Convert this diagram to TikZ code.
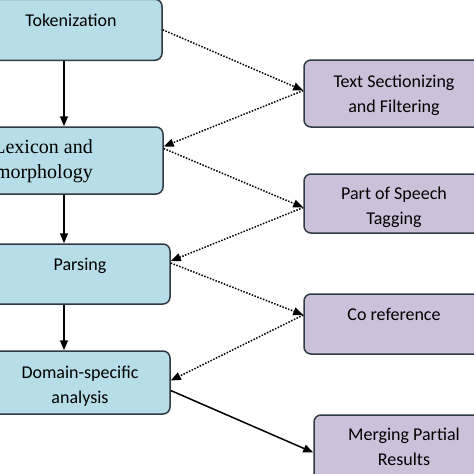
\documentclass[tikz,border=0pt]{standalone}
\usepackage{fontspec}
\setmainfont{Carlito}
\newfontfamily\timesfont{Liberation Serif}
\usetikzlibrary{arrows.meta}

\definecolor{stepblue}{HTML}{B7DDE8}
\definecolor{steplilac}{HTML}{CCC1DA}
\definecolor{stepedge}{HTML}{2E3A44}

\tikzset{
  stepbox/.style={draw=stepedge, line width=1.5pt, rounded corners=7pt,
                  inner sep=0pt},
  leftbox/.style={stepbox, fill=stepblue},
  rightbox/.style={stepbox, fill=steplilac},
  steptext/.style={anchor=base, align=center, inner sep=0pt,
                   font=\fontsize{18}{25}\selectfont},
  flow/.style={line width=1.5pt, -{Triangle[length=10pt,width=8pt]}},
  hint/.style={line width=1.5pt, dash pattern=on 1.5pt off 1.5pt,
               -{Triangle[length=10pt,width=8pt]}}
}

\begin{document}
\begin{tikzpicture}[x=1pt,y=-1pt]
        \useasboundingbox (0,0) rectangle (474,474);
        \clip (0,0) rectangle (474,474);

        % ---- main steps (left column) -------------------
        \node[leftbox, minimum width=182pt, minimum height=61pt]  (tok)   at (71,29.75) {};
        \node[leftbox, minimum width=183pt, minimum height=67pt]  (lex)   at (71.5,160.5) {};
        \node[leftbox, minimum width=190pt, minimum height=60pt]  (pars)  at (75,274) {};
        \node[leftbox, minimum width=190pt, minimum height=63pt]  (dom)   at (75,382.5) {};

        % ---- side steps (right column) ------------------
        \node[rightbox, minimum width=196pt, minimum height=67pt] (sect)  at (402,93.5) {};
        \node[rightbox, minimum width=196pt, minimum height=59pt] (pos)   at (402,203.5) {};
        \node[rightbox, minimum width=196pt, minimum height=60pt] (coref) at (402,324) {};
        \node[rightbox, minimum width=196pt, minimum height=75pt] (merge) at (412,452.5) {};

        % ---- texts inside the boxes (base = last line) --
        \node[steptext] (toktxt)  at (71,26)  {Tokenization};
        \node[steptext, anchor=base east, align=right,
              font=\timesfont\fontsize{20}{25}\selectfont]
                        (lextxt)  at (93,178) {Lexicon and\\morphology};
        \node[steptext] (parstxt) at (80,270) {Parsing};
        \node[steptext] (domtxt)  at (80,403) {Domain-specific\\analysis};
        \node[steptext] (secttxt) at (394,112) {Text Sectionizing\\and Filtering};
        \begin{scope}
          \clip (304,174) rectangle (500,228);   % keep second line cut by the box
          \node[steptext] (postxt) at (394,224) {Part of Speech\\Tagging};
        \end{scope}
        \node[steptext] (coreftxt)  at (394,320) {Co reference};
        \node[steptext] (mergetxt)  at (404,465) {Merging Partial\\Results};

        % ---- solid flow down the left column ------------
        \draw[flow] ([xshift=-7pt]tok.south)   -- ([xshift=-7.5pt]lex.north);
        \draw[flow] ([xshift=-7.5pt]lex.south) -- ([xshift=-11pt]pars.north);
        \draw[flow] ([xshift=-11pt]pars.south) -- ([xshift=-11pt]dom.north);

        % ---- dotted links to the side steps -------------
        \draw[hint] (tok.east)                 -- ([yshift=3pt]sect.west);
        \draw[hint] ([yshift=3pt]sect.west)    -- ([yshift=14pt]lex.east);
        \draw[hint] ([yshift=12pt]lex.east)    -- ([yshift=-4pt]pos.west);
        \draw[hint] ([yshift=-4pt]pos.west)    -- ([yshift=13pt]pars.east);
        \draw[hint] ([yshift=11pt]pars.east)   -- ([yshift=9pt]coref.west);
        \draw[hint] ([yshift=9pt]coref.west)   -- ([yshift=2pt]dom.east);
        \draw[flow] ([yshift=-8pt]dom.east)    -- (merge.west);
    \end{tikzpicture}
\end{document}
